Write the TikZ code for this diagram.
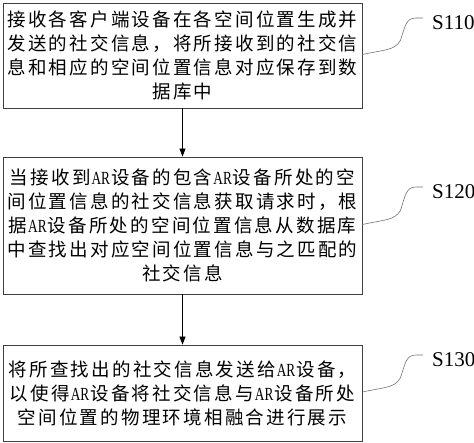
\documentclass[tikz,border=0pt]{standalone}
\usepackage{fontspec}
\usepackage{graphicx}
\setmainfont{Liberation Serif}
\newfontfamily\cjk[LetterSpace=12]{Noto Sans CJK SC}
\usetikzlibrary{arrows.meta,calc}
\newcommand{\AR}{\hspace{1pt}\scalebox{0.72}[1]{\rmfamily AR}\hspace{1pt}}
\tikzset{
  stepbox/.style={draw=black!75, line width=0.8pt, inner sep=0pt, minimum width=359pt, align=center,
    font=\fontsize{18.5}{24}\selectfont\cjk},
  flow/.style={draw=black, line width=0.8pt, -{Triangle[length=8pt,width=6pt]}},
  leader/.style={draw=black!55, line width=0.6pt},
  steplabel/.style={anchor=west, inner sep=0pt, font=\fontsize{21}{24}\selectfont}
}
\begin{document}
\begin{tikzpicture}[x=1pt,y=-1pt]
\useasboundingbox (0,0) rectangle (474,443);
\node[stepbox, minimum height=105pt] (b1) at (182.5,55.5)
  {接收各客户端设备在各空间位置生成并\\发送的社交信息，将所接收到的社交信\\息和相应的空间位置信息对应保存到数\\据库中};
\node[stepbox, minimum height=137pt] (b2) at (182.5,225.5)
  {当接收到\AR 设备的包含\AR 设备所处的空\\间位置信息的社交信息获取请求时，根\\据\AR 设备所处的空间位置信息从数据库\\中查找出对应空间位置信息与之匹配的\\社交信息};
\node[stepbox, minimum height=96pt] (b3) at (182.5,393)
  {将所查找出的社交信息发送给\AR 设备，\\以使得\AR 设备将社交信息与\AR 设备所处\\空间位置的物理环境相融合进行展示};
\draw[flow] (b1.south) -- (b2.north);
\draw[flow] (b2.south) -- (b3.north);
\node[steplabel] (l1) at (432,23) {S110};
\node[steplabel] (l2) at (432,192) {S120};
\node[steplabel] (l3) at (432,360) {S130};
\foreach \b/\l in {b1/l1,b2/l2,b3/l3}{
  \coordinate (e\l) at ($(\l.west)+(-9,-5)$);
  \draw[leader] ($(\b.east)+(0,-1)$) .. controls +(23,-5) and +(-6,10) .. ($(\b.east)+(38,-15)$)
     .. controls +(5,-15) and +(-10,0) .. ($(e\l)+(-7,0)$) -- (e\l);
}
\end{tikzpicture}
\end{document}
